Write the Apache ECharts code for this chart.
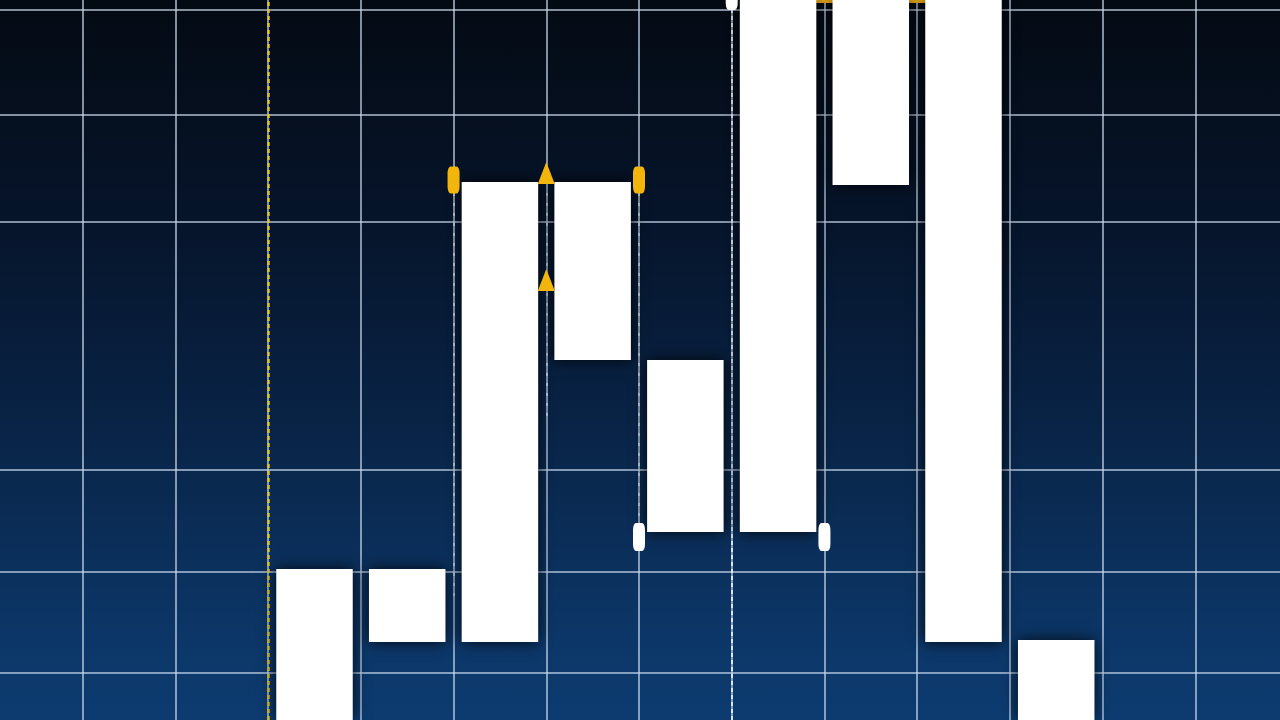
<!DOCTYPE html>
<html>
<head>
<meta charset="utf-8">
<script src="https://cdn.jsdelivr.net/npm/echarts@6/dist/echarts.min.js"></script>
<style>
html,body{margin:0;padding:0;width:1280px;height:720px;overflow:hidden;position:relative;
background:linear-gradient(to bottom,#040a13 0%,#06142a 30%,#092447 60%,#0c3667 88%,#0d3b70 100%);}
#chart{position:absolute;left:-10.5px;top:0;width:1298px;height:720px;}
</style>
</head>
<body>
<div id="chart"></div>
<script>
// ---- data (y values in chart units, 0 = bottom edge, 720 = top edge) ----
const categories = ['c0','c1','c2','c3','c4','c5','c6','c7','c8','c9','c10','c11','c12','c13'];
const barLow  = [null, null, null,   0,  78,  78, 360, 188, 188, 535,  78,   0, null, null];
const barHigh = [null, null, null, 151, 151, 538, 538, 360, 760, 760, 760,  80, null, null];
const hGridValues = [710, 605, 498, 250, 148, 47];
const orangeRects = [[4.5, 540], [6.5, 540]];
const orangeTriangles = [[5.5, 547], [5.5, 440]];
const whiteRects = [[6.5, 183], [8.5, 183], [7.5, 724]];
const yellowDashX = [2.5];
const faintDashSegs = [[4.5, 527, 120], [5.5, 527, 300], [6.5, 527, 197]];
const whiteDashX = [7.5];

const barBody = barHigh.map((h, i) => (h == null ? null : h - barLow[i]));

const chart = echarts.init(document.getElementById('chart'), null, {renderer: 'canvas'});
const gridColor = 'rgba(205,220,238,0.85)';

const option = {
  backgroundColor: 'transparent',
  animation: false,
  grid: {left: 0, right: 0, top: 0, bottom: 0, containLabel: false, outerBoundsMode: 'none'},
  xAxis: [
    {type: 'category', data: categories, boundaryGap: true,
     axisLine: {show: false}, axisTick: {show: false}, axisLabel: {show: false},
     splitLine: {show: true, interval: 0, lineStyle: {color: gridColor, width: 1.5}}},
    {type: 'value', min: -0.5, max: 13.5, show: false}
  ],
  yAxis: {type: 'value', min: 0, max: 720, show: false, splitLine: {show: false}},
  series: [
    {
      type: 'line', data: [], z: 1, xAxisIndex: 0,
      markLine: {
        z: 1, silent: true, symbol: 'none', label: {show: false},
        lineStyle: {color: gridColor, width: 1.5, type: 'solid'},
        data: hGridValues.map(v => ({yAxis: v}))
      }
    },
    {
      type: 'scatter', data: [], z: 2, xAxisIndex: 1,
      markLine: {
        z: 2, silent: true, symbol: 'none', label: {show: false},
        data: [
          ...yellowDashX.map(x => [
            {coord: [x, 0], lineStyle: {color: '#e2c21e', width: 2.5, type: [4, 3]}},
            {coord: [x, 720]}
          ]),
          ...whiteDashX.map(x => [
            {coord: [x, 0], lineStyle: {color: 'rgba(235,242,252,0.85)', width: 2, type: [4, 3]}},
            {coord: [x, 720]}
          ]),
          ...faintDashSegs.map(s => [
            {coord: [s[0], s[1]], lineStyle: {color: 'rgba(215,228,245,0.7)', width: 1.8, type: [3, 7]}},
            {coord: [s[0], s[2]]}
          ]),
          [
            {coord: [7.9, 719], lineStyle: {color: '#e9a81a', width: 3, type: 'solid'}},
            {coord: [10.1, 719]}
          ]
        ]
      }
    },
    {
      type: 'bar', stack: 'w', data: barLow, barWidth: 76.5, z: 3, clip: true,
      itemStyle: {color: 'rgba(0,0,0,0)'}, silent: true
    },
    {
      type: 'bar', stack: 'w', data: barBody, barWidth: 76.5, z: 3, clip: true,
      itemStyle: {color: '#ffffff', shadowColor: 'rgba(0,0,0,0.85)', shadowBlur: 14}
    },
    {
      type: 'scatter', xAxisIndex: 1, data: orangeRects, z: 6, clip: false,
      symbol: 'roundRect', symbolSize: [12, 27], itemStyle: {color: '#f2b50c', opacity: 1}
    },
    {
      type: 'scatter', xAxisIndex: 1, data: orangeTriangles, z: 6, clip: false,
      symbol: 'triangle', symbolSize: [17, 22], itemStyle: {color: '#f2b50c', opacity: 1}
    },
    {
      type: 'scatter', xAxisIndex: 1, data: whiteRects, z: 6, clip: false,
      symbol: 'roundRect', symbolSize: [12, 28], itemStyle: {color: '#ffffff', opacity: 1}
    }
  ]
};
chart.setOption(option);
</script>
</body>
</html>
